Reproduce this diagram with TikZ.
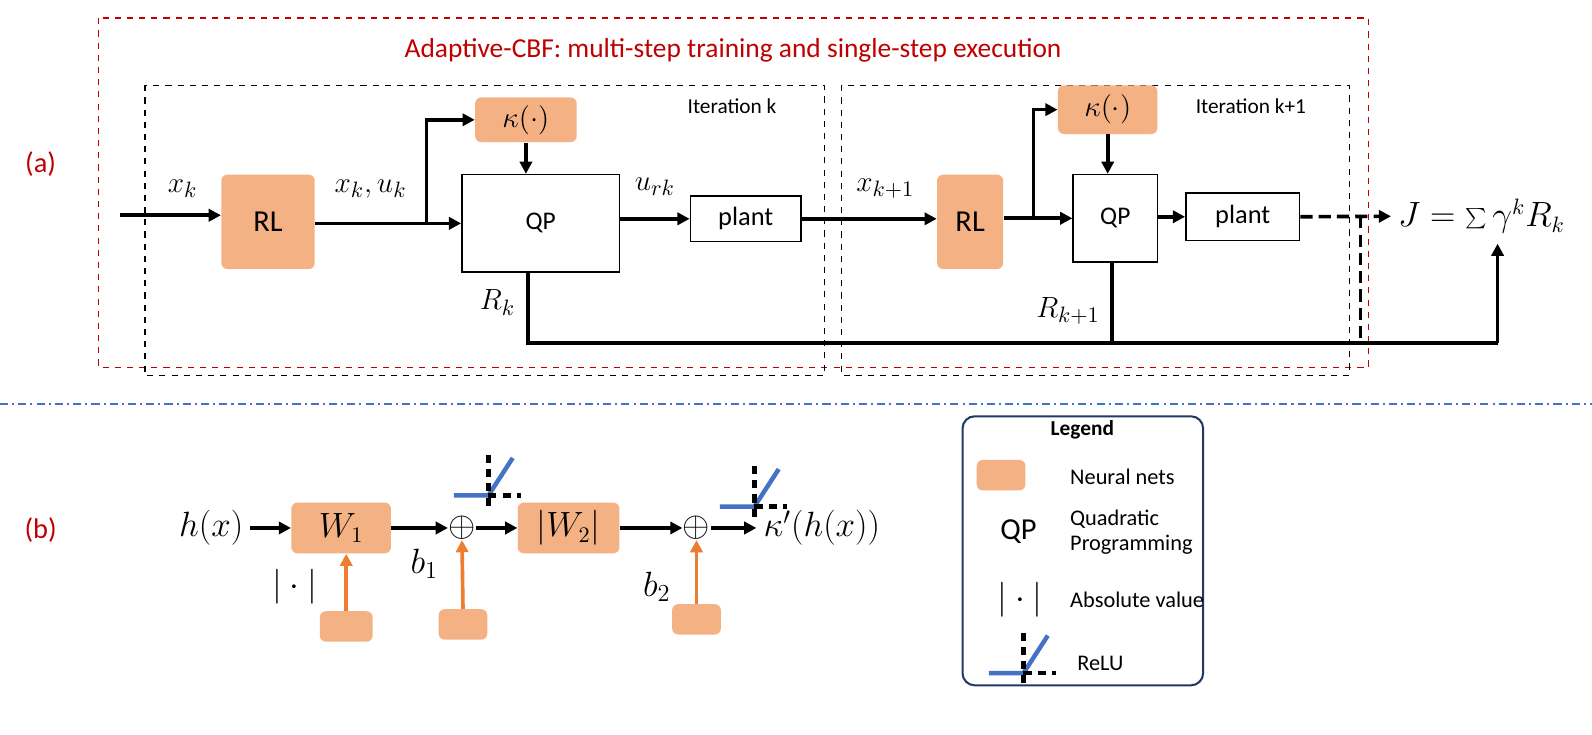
\documentclass[tikz,border=0pt]{standalone}
\usepackage{fontspec}
\setmainfont{Carlito}
\usetikzlibrary{arrows.meta}
\definecolor{nn}{RGB}{244,177,131}
\definecolor{nnarrow}{RGB}{237,125,49}
\definecolor{dred}{RGB}{192,0,0}
\definecolor{rblue}{RGB}{68,114,196}
\definecolor{navy}{RGB}{31,56,100}
\begin{document}
\begin{tikzpicture}[x=0.5pt,y=-0.5pt,
  nnbox/.style={fill=nn,draw=none,rounded corners=3pt,inner sep=0},
  wbox/.style={draw,line width=0.8pt,fill=white,inner sep=0},
  arr/.style={line width=1.8pt,-{Triangle[length=6pt,width=6pt]}},
  ln/.style={line width=1.8pt},
  oarr/.style={line width=1.8pt,draw=nnarrow,-{Triangle[length=6pt,width=6pt]}},
  lbl/.style={font=\fontsize{15}{15}\selectfont},
  relu/.pic={\draw[rblue,line width=2.2pt] (-34,0)--(0,0) (0,0)--(24,-37);
             \draw[line width=2.2pt,dash pattern=on 4pt off 3pt] (0,-40)--(0,10) (0,0)--(32,0);}]
% frames
\draw[dred,dashed,line width=0.8pt] (97,18) rectangle (1348,362);
\node[dred,font=\fontsize{13.5}{13.5}\selectfont] (title) at (722,50) {Adaptive-CBF: multi-step training and single-step execution};
\draw[dashed,line width=0.7pt] (143,84) rectangle (812,370);
\draw[dashed,line width=0.7pt] (829,84) rectangle (1329,370);
\node[font=\fontsize{10.5}{10.5}\selectfont] (it1) at (721,105) {Iteration k};
\node[font=\fontsize{10.5}{10.5}\selectfont] (it2) at (1232,105) {Iteration k+1};
\node[dred,font=\fontsize{14}{14}\selectfont] (la) at (40,162) {(a)};
\node[dred,font=\fontsize{14}{14}\selectfont] (lb) at (40,522) {(b)};
\draw[rblue,line width=0.7pt,dash pattern=on 4pt off 2pt on 1pt off 2pt] (0,398)--(1592,398);
% (a) nodes
\node[nnbox,minimum width=46pt,minimum height=46.5pt] (rl1) at (264,218.5) {\fontsize{15}{15}\selectfont RL};
\node[wbox,minimum width=77.5pt,minimum height=48pt] (qp1) at (532.5,220) {\fontsize{12.5}{12.5}\selectfont QP};
\node[nnbox,minimum width=50pt,minimum height=22pt] (k1) at (518,118) {\fontsize{15}{15}\selectfont$\kappa(\cdot)$};
\node[wbox,minimum width=54.5pt,minimum height=22.5pt] (p1) at (734.5,215.5) {\fontsize{13}{13}\selectfont plant};
\node[nnbox,minimum width=32.5pt,minimum height=46.5pt] (rl2) at (955.5,218.5) {\fontsize{15}{15}\selectfont RL};
\node[wbox,minimum width=41.5pt,minimum height=43pt] (qp2) at (1098.5,215) {\fontsize{12.5}{12.5}\selectfont QP};
\node[nnbox,minimum width=49pt,minimum height=24pt] (k2) at (1091,108) {\fontsize{15}{15}\selectfont$\kappa(\cdot)$};
\node[wbox,minimum width=56pt,minimum height=23.5pt] (p2) at (1224,213.5) {\fontsize{13}{13}\selectfont plant};
\coordinate (in) at (118,212);
\coordinate (b1) at (420,220);
\coordinate (b2) at (1018,215);
\coordinate (jend) at (1370,213);
\coordinate (dd) at (1340,213);
\node[anchor=west,font=\fontsize{16}{16}\selectfont] (J) at (1370,213) {$J=\sum\gamma^k R_k$};
\draw[arr] (in)--(rl1.west|-in);
\node[lbl] at (180,186) {$x_k$};
\draw[arr] (rl1.east|-b1)--(qp1.west|-b1);
\node[lbl] at (365,186) {$x_k,u_k$};
\draw[arr] (b1)|-(k1.west);
\draw[arr] (k1.south)--(k1.south|-qp1.north);
\draw[arr] (qp1.east|-p1)--(p1.west);
\node[lbl] at (645,184) {$u_{rk}$};
\draw[arr] (p1.east)--(rl2.west|-p1);
\node[lbl] at (872,186) {$x_{k+1}$};
\draw[arr] (rl2.east|-b2)--(qp2.west|-b2);
\draw[arr] (b2)|-(k2.west);
\draw[arr] (k2.south)--(k2.south|-qp2.north);
\draw[arr] (qp2.east|-p2)--(p2.west);
\draw[arr,dash pattern=on 6pt off 3pt] (p2.east)--(jend);
\draw[ln] (520,268)--(520,338)--(1475,338);
\draw[arr] (1475,338)--(1475,240);
\draw[ln] (1095,258)--(1095,338);
\draw[ln,dash pattern=on 6pt off 3pt] (dd)--(1340,338);
\node[lbl] at (490,298) {$R_k$};
\node[lbl] at (1052,306) {$R_{k+1}$};
% (b)
\node[font=\fontsize{17}{17}\selectfont] (hx) at (208,520) {$h(x)$};
\node[nnbox,minimum width=49pt,minimum height=25pt] (w1) at (336,520) {\fontsize{16}{16}\selectfont$W_1$};
\node[inner sep=0] (o1) at (455,520) {\fontsize{17}{17}\selectfont$\oplus$};
\node[nnbox,minimum width=50pt,minimum height=25pt] (w2) at (560,520) {\fontsize{16}{16}\selectfont$|W_2|$};
\node[inner sep=0] (o2) at (686,520) {\fontsize{17}{17}\selectfont$\oplus$};
\node[anchor=west,font=\fontsize{17}{17}\selectfont] (ko) at (745,520) {$\kappa'(h(x))$};
\draw[arr] (hx.east)--(w1.west);
\draw[arr] (w1.east)--(o1.west);
\draw[arr] (o1.east)--(w2.west);
\draw[arr] (w2.east)--(o2.west);
\draw[arr] (o2.east)--(ko.west);
\node[nnbox,minimum width=26pt,minimum height=15pt] (s1) at (341,617) {};
\node[nnbox,minimum width=24pt,minimum height=15pt] (s2) at (456,615) {};
\node[nnbox,minimum width=24pt,minimum height=15pt] (s3) at (686,610) {};
\draw[oarr] (s1.north)--(w1.south-|s1.north);
\draw[oarr] (s2.north)--(o1.south);
\draw[oarr] (s3.north)--(o2.south);
\node[font=\fontsize{17}{17}\selectfont] at (290,578) {$|\cdot|$};
\node[font=\fontsize{17}{17}\selectfont] at (418,555) {$b_1$};
\node[font=\fontsize{17}{17}\selectfont] at (647,578) {$b_2$};
\pic at (481,488) {relu};
\pic at (743,499) {relu};
% legend
\draw[navy,line width=1pt,rounded corners=6pt] (948,410) rectangle (1185,675);
\node[font=\bfseries\fontsize{10.5}{10.5}\selectfont] (lg) at (1066,423) {Legend};
\node[nnbox,minimum width=24pt,minimum height=15pt] (sw) at (986,468) {};
\node[font=\fontsize{11}{11}\selectfont,anchor=west] at (1047,470) {Neural nets};
\node[font=\fontsize{15}{15}\selectfont] at (1003,524) {QP};
\node[font=\fontsize{11}{12}\selectfont,anchor=west,align=left] at (1047,524) {Quadratic\\Programming};
\node[font=\fontsize{17}{17}\selectfont] at (1005,591) {$|\cdot|$};
\node[font=\fontsize{11}{11}\selectfont,anchor=west] at (1047,591) {Absolute value};
\begin{scope}[shift={(1008,663)},scale=0.8]\pic {relu};\end{scope}
\node[font=\fontsize{11}{11}\selectfont,anchor=west] at (1054,653) {ReLU};
\pgfresetboundingbox
\useasboundingbox (0,0) rectangle (1568,723);
\end{tikzpicture}
\end{document}
